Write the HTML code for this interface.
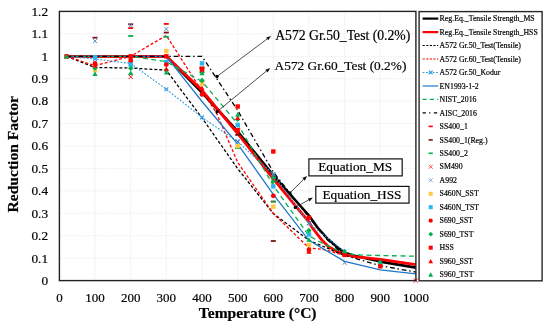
<!DOCTYPE html><html><head><meta charset="utf-8"><title>Reduction Factor vs Temperature</title>
<style>html,body{margin:0;padding:0;background:#fff}svg{display:block}text{font-family:'Liberation Serif', serif;fill:#000;stroke:#000;stroke-width:0.2px}</style></head><body>
<svg width="550" height="326" viewBox="0 0 550 326">
<rect width="550" height="326" fill="#fff"/>
<path d="M95.0,11.4V280.6M130.7,11.4V280.6M166.3,11.4V280.6M202.0,11.4V280.6M237.7,11.4V280.6M273.3,11.4V280.6M308.9,11.4V280.6M344.6,11.4V280.6M380.2,11.4V280.6M59.4,258.2H415.9M59.4,235.7H415.9M59.4,213.3H415.9M59.4,190.9H415.9M59.4,168.4H415.9M59.4,146.0H415.9M59.4,123.6H415.9M59.4,101.1H415.9M59.4,78.7H415.9M59.4,56.3H415.9M59.4,33.8H415.9" stroke="#e4e4e4" stroke-width="0.8" stroke-dasharray="1.2,1.2" fill="none"/>
<polyline points="66.5,56.3 166.3,56.3 202.0,92.6 237.7,131.5 273.3,175.4 308.9,215.5 317.9,228.0 327.8,239.0 336.8,246.8 344.6,252.8 354.6,255.8 380.2,261.6 415.9,267.6" fill="none" stroke="#000" stroke-width="2.6" stroke-linejoin="round"/>
<polyline points="66.5,56.3 166.3,56.3 202.0,90.3 237.7,133.5 273.3,178.8 308.9,222.0 312.5,228.0 322.1,240.3 327.8,246.1 335.7,250.6 344.6,254.4 354.6,256.7 380.2,259.3 415.9,264.7" fill="none" stroke="#ff0000" stroke-width="2.8" stroke-linejoin="round"/>
<polyline points="66.5,56.3 95.0,67.5 130.7,68.0 166.3,70.2 202.0,117.9 237.7,168.7 273.3,213.5 308.9,240.3 344.6,255.5" fill="none" stroke="#000" stroke-width="1.3" stroke-dasharray="3,2"/>
<polyline points="66.5,56.3 95.0,65.7 130.7,56.3 166.3,35.5 202.0,91.2 216.3,112.7 237.7,162.4 273.3,213.5 308.9,247.9 323.2,249.3 344.6,255.5" fill="none" stroke="#ff0000" stroke-width="1.3" stroke-dasharray="3,2"/>
<polyline points="66.5,56.3 95.0,59.0 130.7,63.5 166.3,89.2 202.0,117.4 237.7,141.6 273.3,174.3 308.9,223.3 344.6,251.5" fill="none" stroke="#2f9be3" stroke-width="1.1" stroke-dasharray="1.8,1.6"/>
<polyline points="66.5,56.3 166.3,56.3 202.0,101.5 237.7,144.1 273.3,194.4 308.9,240.3 344.6,261.4 380.2,269.9 415.9,273.9" fill="none" stroke="#1f77c9" stroke-width="1.3"/>
<polyline points="66.5,56.3 130.7,56.3 166.3,61.7 202.0,81.4 237.7,123.9 273.3,185.5 308.9,235.8 323.2,243.7 344.6,253.1 355.3,254.9 380.2,255.5 415.9,256.2" fill="none" stroke="#00b050" stroke-width="1.3" stroke-dasharray="5,3.5"/>
<polyline points="66.5,56.3 202.0,56.3 237.7,110.5 273.3,172.0 308.9,217.3 326.8,239.2 344.6,255.3 380.2,265.6 415.9,272.1" fill="none" stroke="#000" stroke-width="1.3" stroke-dasharray="4.8,2.8,1.5,2.8"/>
<path d="M93.1,57.1L97.0,60.9M93.1,60.9L97.0,57.1" stroke="#2f9be3" stroke-width="1.2" fill="none"/>
<path d="M128.8,61.6L132.6,65.4M128.8,65.4L132.6,61.6" stroke="#2f9be3" stroke-width="1.2" fill="none"/>
<path d="M164.4,87.3L168.2,91.1M164.4,91.1L168.2,87.3" stroke="#2f9be3" stroke-width="1.2" fill="none"/>
<path d="M200.1,115.5L203.9,119.3M200.1,119.3L203.9,115.5" stroke="#2f9be3" stroke-width="1.2" fill="none"/>
<path d="M235.8,139.7L239.6,143.5M235.8,143.5L239.6,139.7" stroke="#2f9be3" stroke-width="1.2" fill="none"/>
<path d="M271.4,172.4L275.2,176.2M271.4,176.2L275.2,172.4" stroke="#2f9be3" stroke-width="1.2" fill="none"/>
<path d="M307.1,221.4L310.8,225.2M307.1,225.2L310.8,221.4" stroke="#2f9be3" stroke-width="1.2" fill="none"/>
<path d="M342.7,249.6L346.5,253.4M342.7,253.4L346.5,249.6" stroke="#2f9be3" stroke-width="1.2" fill="none"/>
<rect x="128.2" y="27.2" width="5" height="1.8" fill="#ff0000"/>
<rect x="163.8" y="23.0" width="5" height="1.8" fill="#ff0000"/>
<rect x="199.5" y="66.4" width="5" height="1.8" fill="#ff0000"/>
<rect x="235.2" y="127.9" width="5" height="1.8" fill="#ff0000"/>
<rect x="270.8" y="200.7" width="5" height="1.8" fill="#ff0000"/>
<rect x="92.5" y="36.8" width="5" height="1.8" fill="#7b1515"/>
<rect x="128.2" y="23.4" width="5" height="1.8" fill="#7b1515"/>
<rect x="163.8" y="31.7" width="5" height="1.8" fill="#7b1515"/>
<rect x="199.5" y="67.7" width="5" height="1.8" fill="#7b1515"/>
<rect x="235.2" y="134.0" width="5" height="1.8" fill="#7b1515"/>
<rect x="270.8" y="240.1" width="5" height="1.8" fill="#7b1515"/>
<rect x="128.2" y="35.1" width="5" height="1.8" fill="#00b050"/>
<rect x="163.8" y="35.9" width="5" height="1.8" fill="#00b050"/>
<rect x="199.5" y="71.5" width="5" height="1.8" fill="#00b050"/>
<rect x="235.2" y="147.2" width="5" height="1.8" fill="#00b050"/>
<rect x="270.8" y="200.7" width="5" height="1.8" fill="#00b050"/>
<path d="M128.5,74.7L132.9,79.1M128.5,79.1L132.9,74.7" stroke="#ff0000" stroke-width="0.9" fill="none"/>
<path d="M199.8,81.4L204.2,85.8M199.8,85.8L204.2,81.4" stroke="#ff0000" stroke-width="0.9" fill="none"/>
<path d="M413.7,278.4L418.1,282.8M413.7,282.8L418.1,278.4" stroke="#ff0000" stroke-width="0.9" fill="none"/>
<path d="M93.0,39.0L97.1,43.2M93.0,43.2L97.1,39.0" stroke="#4f81bd" stroke-width="0.9" fill="none"/>
<path d="M128.6,23.3L132.8,27.5M128.6,27.5L132.8,23.3" stroke="#4f81bd" stroke-width="0.9" fill="none"/>
<path d="M164.2,26.9L168.4,31.1M164.2,31.1L168.4,26.9" stroke="#4f81bd" stroke-width="0.9" fill="none"/>
<path d="M235.6,139.5L239.8,143.7M235.6,143.7L239.8,139.5" stroke="#4f81bd" stroke-width="0.9" fill="none"/>
<path d="M271.2,172.2L275.4,176.4M271.2,176.4L275.4,172.2" stroke="#4f81bd" stroke-width="0.9" fill="none"/>
<path d="M306.8,221.2L311.1,225.4M306.8,225.4L311.1,221.2" stroke="#4f81bd" stroke-width="0.9" fill="none"/>
<path d="M342.5,260.6L346.7,264.8M342.5,264.8L346.7,260.6" stroke="#4f81bd" stroke-width="0.9" fill="none"/>
<path d="M378.1,261.0L382.4,265.2M378.1,265.2L382.4,261.0" stroke="#4f81bd" stroke-width="0.9" fill="none"/>
<rect x="92.8" y="68.0" width="4.4" height="4.4" fill="#ffc843"/>
<rect x="164.2" y="48.8" width="4.4" height="4.4" fill="#ffc843"/>
<rect x="199.8" y="81.0" width="4.4" height="4.4" fill="#ffc843"/>
<rect x="235.5" y="143.9" width="4.4" height="4.4" fill="#ffc843"/>
<rect x="271.1" y="204.5" width="4.4" height="4.4" fill="#ffc843"/>
<rect x="306.8" y="242.8" width="4.4" height="4.4" fill="#ffc843"/>
<rect x="92.8" y="55.0" width="4.4" height="4.4" fill="#29b6f0"/>
<rect x="128.5" y="62.2" width="4.4" height="4.4" fill="#29b6f0"/>
<rect x="164.2" y="59.9" width="4.4" height="4.4" fill="#29b6f0"/>
<rect x="199.8" y="61.1" width="4.4" height="4.4" fill="#29b6f0"/>
<rect x="235.5" y="122.8" width="4.4" height="4.4" fill="#29b6f0"/>
<rect x="271.1" y="184.2" width="4.4" height="4.4" fill="#29b6f0"/>
<rect x="306.8" y="232.3" width="4.4" height="4.4" fill="#29b6f0"/>
<circle cx="95.0" cy="63.5" r="2.4" fill="#ff0000"/>
<circle cx="130.7" cy="60.1" r="2.4" fill="#ff0000"/>
<circle cx="166.3" cy="64.6" r="2.4" fill="#ff0000"/>
<circle cx="202.0" cy="94.4" r="2.4" fill="#ff0000"/>
<circle cx="237.7" cy="131.5" r="2.4" fill="#ff0000"/>
<circle cx="273.3" cy="195.8" r="2.4" fill="#ff0000"/>
<circle cx="308.9" cy="249.9" r="2.4" fill="#ff0000"/>
<path d="M95.0,65.3L97.8,68.0L95.0,70.7L92.3,68.0Z" fill="#00b050"/>
<path d="M130.7,65.5L133.4,68.2L130.7,70.9L128.0,68.2Z" fill="#00b050"/>
<path d="M166.3,67.5L169.0,70.2L166.3,72.9L163.7,70.2Z" fill="#00b050"/>
<path d="M202.0,77.8L204.7,80.5L202.0,83.2L199.3,80.5Z" fill="#00b050"/>
<path d="M237.7,116.7L240.3,119.4L237.7,122.1L235.0,119.4Z" fill="#00b050"/>
<path d="M273.3,178.7L276.0,181.4L273.3,184.1L270.6,181.4Z" fill="#00b050"/>
<path d="M308.9,227.8L311.6,230.5L308.9,233.2L306.2,230.5Z" fill="#00b050"/>
<rect x="64.3" y="54.1" width="4.4" height="4.4" fill="#ff0000"/>
<rect x="128.5" y="54.1" width="4.4" height="4.4" fill="#ff0000"/>
<rect x="164.2" y="54.1" width="4.4" height="4.4" fill="#ff0000"/>
<rect x="199.8" y="68.0" width="4.4" height="4.4" fill="#ff0000"/>
<rect x="235.5" y="104.3" width="4.4" height="4.4" fill="#ff0000"/>
<rect x="271.1" y="149.3" width="4.4" height="4.4" fill="#ff0000"/>
<rect x="306.8" y="215.5" width="4.4" height="4.4" fill="#ff0000"/>
<rect x="342.4" y="252.7" width="4.4" height="4.4" fill="#ff0000"/>
<rect x="378.1" y="264.1" width="4.4" height="4.4" fill="#ff0000"/>
<path d="M66.5,53.8L69.1,58.5L63.9,58.5Z" fill="#ff0000"/>
<path d="M95.0,62.8L97.6,67.5L92.5,67.5Z" fill="#ff0000"/>
<path d="M130.7,57.7L133.3,62.3L128.1,62.3Z" fill="#ff0000"/>
<path d="M166.3,66.6L168.9,71.3L163.8,71.3Z" fill="#ff0000"/>
<path d="M202.0,85.6L204.6,90.3L199.4,90.3Z" fill="#ff0000"/>
<path d="M237.7,115.4L240.2,120.1L235.1,120.1Z" fill="#ff0000"/>
<path d="M273.3,174.7L275.9,179.4L270.7,179.4Z" fill="#ff0000"/>
<path d="M308.9,249.0L311.6,253.7L306.3,253.7Z" fill="#ff0000"/>
<path d="M66.5,53.8L69.1,58.5L63.9,58.5Z" fill="#00b050"/>
<path d="M95.0,71.3L97.6,76.0L92.5,76.0Z" fill="#00b050"/>
<path d="M130.7,70.2L133.3,74.9L128.1,74.9Z" fill="#00b050"/>
<path d="M166.3,70.0L168.9,74.6L163.8,74.6Z" fill="#00b050"/>
<path d="M202.0,70.6L204.6,75.3L199.4,75.3Z" fill="#00b050"/>
<path d="M237.7,112.0L240.2,116.7L235.1,116.7Z" fill="#00b050"/>
<path d="M273.3,174.5L275.9,179.2L270.7,179.2Z" fill="#00b050"/>
<path d="M308.9,237.2L311.6,241.8L306.3,241.8Z" fill="#00b050"/>
<path d="M344.6,248.6L347.2,253.3L342.0,253.3Z" fill="#00b050"/>
<path d="M380.2,259.1L382.9,263.8L377.6,263.8Z" fill="#00b050"/>
<rect x="59.4" y="11.4" width="356.5" height="269.2" fill="none" stroke="#222" stroke-width="1.4"/>
<line x1="217.0" y1="76.5" x2="267.2" y2="38.9" stroke="#222" stroke-width="0.8"/>
<path d="M271.0,36.0L268.2,40.3L266.1,37.4Z" fill="#111"/>
<circle cx="217.0" cy="76.5" r="1.7" fill="#000"/>
<line x1="217.0" y1="111.7" x2="266.5" y2="71.0" stroke="#222" stroke-width="0.8"/>
<path d="M270.2,68.0L267.6,72.4L265.3,69.7Z" fill="#111"/>
<circle cx="217.0" cy="111.7" r="1.7" fill="#000"/>
<line x1="289.9" y1="193.0" x2="303.6" y2="179.4" stroke="#222" stroke-width="0.8"/>
<path d="M307.0,176.0L304.9,180.7L302.3,178.1Z" fill="#111"/>
<circle cx="289.9" cy="193.0" r="1.7" fill="#000"/>
<line x1="295.4" y1="207.4" x2="308.7" y2="199.9" stroke="#222" stroke-width="0.8"/>
<path d="M312.9,197.6L309.6,201.5L307.8,198.4Z" fill="#111"/>
<circle cx="295.4" cy="207.4" r="1.7" fill="#000"/>
<text x="275.2" y="39.8" font-size="13.7">A572 Gr.50_Test (0.2%)</text>
<text x="274.6" y="69.5" font-size="13.35">A572 Gr.60_Test (0.2%)</text>
<rect x="308.9" y="158.9" width="93.3" height="17" fill="#fff" stroke="#111" stroke-width="1.2"/>
<text x="355.2" y="171.2" font-size="13.3" text-anchor="middle">Equation_MS</text>
<rect x="315.8" y="186.4" width="93.2" height="16.7" fill="#fff" stroke="#111" stroke-width="1.2"/>
<text x="362.0" y="198.8" font-size="13.3" text-anchor="middle">Equation_HSS</text>
<text x="48.1" y="284.9" font-size="13.3" text-anchor="end">0</text>
<text x="48.1" y="262.5" font-size="13.3" text-anchor="end">0.1</text>
<text x="48.1" y="240.0" font-size="13.3" text-anchor="end">0.2</text>
<text x="48.1" y="217.6" font-size="13.3" text-anchor="end">0.3</text>
<text x="48.1" y="195.2" font-size="13.3" text-anchor="end">0.4</text>
<text x="48.1" y="172.7" font-size="13.3" text-anchor="end">0.5</text>
<text x="48.1" y="150.3" font-size="13.3" text-anchor="end">0.6</text>
<text x="48.1" y="127.9" font-size="13.3" text-anchor="end">0.7</text>
<text x="48.1" y="105.4" font-size="13.3" text-anchor="end">0.8</text>
<text x="48.1" y="83.0" font-size="13.3" text-anchor="end">0.9</text>
<text x="48.1" y="60.6" font-size="13.3" text-anchor="end">1</text>
<text x="48.1" y="38.1" font-size="13.3" text-anchor="end">1.1</text>
<text x="48.1" y="15.7" font-size="13.3" text-anchor="end">1.2</text>
<text x="59.4" y="302.3" font-size="13" text-anchor="middle">0</text>
<text x="95.0" y="302.3" font-size="13" text-anchor="middle">100</text>
<text x="130.7" y="302.3" font-size="13" text-anchor="middle">200</text>
<text x="166.3" y="302.3" font-size="13" text-anchor="middle">300</text>
<text x="202.0" y="302.3" font-size="13" text-anchor="middle">400</text>
<text x="237.7" y="302.3" font-size="13" text-anchor="middle">500</text>
<text x="273.3" y="302.3" font-size="13" text-anchor="middle">600</text>
<text x="308.9" y="302.3" font-size="13" text-anchor="middle">700</text>
<text x="344.6" y="302.3" font-size="13" text-anchor="middle">800</text>
<text x="380.2" y="302.3" font-size="13" text-anchor="middle">900</text>
<text x="415.9" y="302.3" font-size="13" text-anchor="middle">1000</text>
<text x="257.7" y="318" font-size="15.5" font-weight="bold" text-anchor="middle">Temperature (°C)</text>
<text transform="translate(17.5,154.3) rotate(-90)" font-size="15.6" font-weight="bold" text-anchor="middle">Reduction Factor</text>
<rect x="419.1" y="11.6" width="123.0" height="269.2" fill="#fff" stroke="#262626" stroke-width="1.4"/>
<text x="439.6" y="21.3" font-size="8.4" transform="translate(439.6 0) scale(0.93 1) translate(-439.6 0)">Reg.Eq._Tensile Strength_MS</text>
<text x="439.6" y="34.8" font-size="8.4" transform="translate(439.6 0) scale(0.93 1) translate(-439.6 0)">Reg.Eq._Tensile Strength_HSS</text>
<text x="439.6" y="48.2" font-size="8.4" transform="translate(439.6 0) scale(0.93 1) translate(-439.6 0)">A572 Gr.50_Test(Tensile)</text>
<text x="439.6" y="61.7" font-size="8.4" transform="translate(439.6 0) scale(0.93 1) translate(-439.6 0)">A572 Gr.60_Test(Tensile)</text>
<text x="439.6" y="75.2" font-size="8.4" transform="translate(439.6 0) scale(0.93 1) translate(-439.6 0)">A572 Gr.50_Kodur</text>
<text x="439.6" y="88.7" font-size="8.4" transform="translate(439.6 0) scale(0.93 1) translate(-439.6 0)">EN1993-1-2</text>
<text x="439.6" y="102.1" font-size="8.4" transform="translate(439.6 0) scale(0.93 1) translate(-439.6 0)">NIST_2016</text>
<text x="439.6" y="115.6" font-size="8.4" transform="translate(439.6 0) scale(0.93 1) translate(-439.6 0)">AISC_2016</text>
<text x="439.6" y="129.1" font-size="8.4" transform="translate(439.6 0) scale(0.93 1) translate(-439.6 0)">SS400_1</text>
<text x="439.6" y="142.6" font-size="8.4" transform="translate(439.6 0) scale(0.93 1) translate(-439.6 0)">SS400_1(Reg.)</text>
<text x="439.6" y="156.0" font-size="8.4" transform="translate(439.6 0) scale(0.93 1) translate(-439.6 0)">SS400_2</text>
<text x="439.6" y="169.5" font-size="8.4" transform="translate(439.6 0) scale(0.93 1) translate(-439.6 0)">SM490</text>
<text x="439.6" y="183.0" font-size="8.4" transform="translate(439.6 0) scale(0.93 1) translate(-439.6 0)">A992</text>
<text x="439.6" y="196.5" font-size="8.4" transform="translate(439.6 0) scale(0.93 1) translate(-439.6 0)">S460N_SST</text>
<text x="439.6" y="209.9" font-size="8.4" transform="translate(439.6 0) scale(0.93 1) translate(-439.6 0)">S460N_TST</text>
<text x="439.6" y="223.4" font-size="8.4" transform="translate(439.6 0) scale(0.93 1) translate(-439.6 0)">S690_SST</text>
<text x="439.6" y="236.9" font-size="8.4" transform="translate(439.6 0) scale(0.93 1) translate(-439.6 0)">S690_TST</text>
<text x="439.6" y="250.4" font-size="8.4" transform="translate(439.6 0) scale(0.93 1) translate(-439.6 0)">HSS</text>
<text x="439.6" y="263.8" font-size="8.4" transform="translate(439.6 0) scale(0.93 1) translate(-439.6 0)">S960_SST</text>
<text x="439.6" y="277.3" font-size="8.4" transform="translate(439.6 0) scale(0.93 1) translate(-439.6 0)">S960_TST</text>
<line x1="422.6" y1="18.6" x2="438.3" y2="18.6" stroke="#000" stroke-width="2.2"/>
<line x1="422.6" y1="32.1" x2="438.3" y2="32.1" stroke="#ff0000" stroke-width="2.2"/>
<line x1="422.6" y1="45.5" x2="438.3" y2="45.5" stroke="#000" stroke-width="1.1" stroke-dasharray="2.2,1.4"/>
<line x1="422.6" y1="59.0" x2="438.3" y2="59.0" stroke="#ff0000" stroke-width="1.1" stroke-dasharray="2.2,1.4"/>
<line x1="422.6" y1="72.5" x2="438.3" y2="72.5" stroke="#2f9be3" stroke-width="1.0" stroke-dasharray="1.8,1.6"/>
<line x1="422.6" y1="86.0" x2="438.3" y2="86.0" stroke="#1f77c9" stroke-width="1.2"/>
<line x1="422.6" y1="99.4" x2="438.3" y2="99.4" stroke="#00b050" stroke-width="1.3" stroke-dasharray="4,3.3"/>
<line x1="422.6" y1="112.9" x2="438.3" y2="112.9" stroke="#000" stroke-width="1.3" stroke-dasharray="3.3,3.2,1.2,3.6"/>
<path d="M428.8,70.6L432.6,74.4M428.8,74.4L432.6,70.6" stroke="#2f9be3" stroke-width="1.2" fill="none"/>
<rect x="428.6" y="125.6" width="4.2" height="1.6" fill="#ff0000"/>
<rect x="428.6" y="139.1" width="4.2" height="1.6" fill="#7b1515"/>
<rect x="428.6" y="152.5" width="4.2" height="1.6" fill="#00b050"/>
<path d="M428.7,164.8L432.7,168.8M428.7,168.8L432.7,164.8" stroke="#ff0000" stroke-width="0.7" fill="none"/>
<path d="M428.7,178.3L432.7,182.3M428.7,182.3L432.7,178.3" stroke="#4f81bd" stroke-width="0.7" fill="none"/>
<rect x="428.7" y="191.8" width="4.0" height="4.0" fill="#ffc843"/>
<rect x="428.7" y="205.2" width="4.0" height="4.0" fill="#29b6f0"/>
<circle cx="430.7" cy="220.7" r="2.1" fill="#ff0000"/>
<path d="M430.7,231.8L433.1,234.2L430.7,236.6L428.3,234.2Z" fill="#00b050"/>
<rect x="428.7" y="245.7" width="4.0" height="4.0" fill="#ff0000"/>
<path d="M430.7,258.9L433.1,263.2L428.3,263.2Z" fill="#ff0000"/>
<path d="M430.7,272.3L433.1,276.7L428.3,276.7Z" fill="#00b050"/>
</svg></body></html>
